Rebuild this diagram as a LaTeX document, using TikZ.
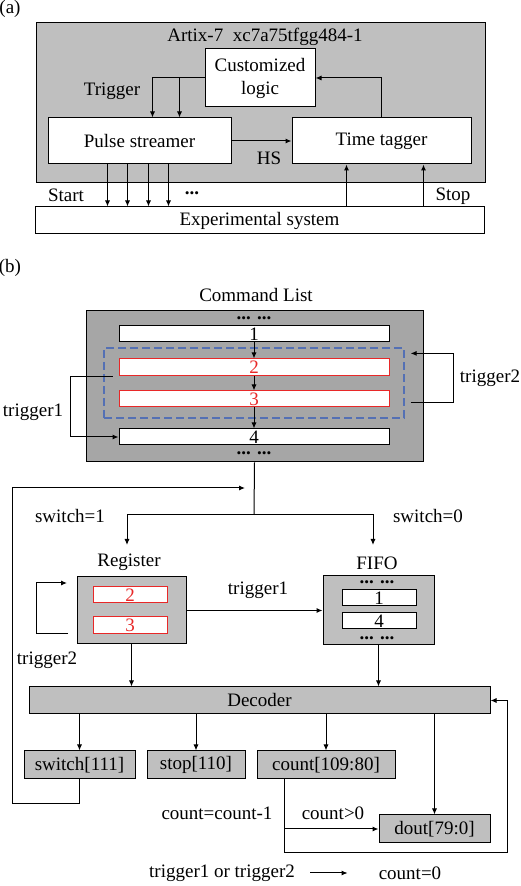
\documentclass[tikz,border=0pt]{standalone}
\usepackage{fontspec}
\setmainfont{Liberation Serif}
\usepackage{tikz}
\usetikzlibrary{calc}
\usetikzlibrary{arrows.meta}
\usetikzlibrary{positioning}
\usepackage{color}
\definecolor{lightgrey}{RGB}{191, 191, 191}
\definecolor{darkgrey}{RGB}{166, 166, 166}
\definecolor{cmdred}{RGB}{232, 40, 40}
\definecolor{dashblue}{RGB}{84, 112, 180}

\tikzset{
  every node/.style={font=\fontsize{19}{23}\selectfont, inner sep=0pt},
  box/.style={draw, fill=white, line width=1pt},
  greybox/.style={draw, fill=lightgrey, line width=1pt},
  redrow/.style={draw=cmdred, fill=white, text=cmdred, line width=1pt},
  arr/.style={line width=1pt, -{Latex[length=6pt,width=5pt]}},
  wire/.style={line width=1pt},
}

\begin{document}
\begin{tikzpicture}[x=1pt, y=1pt]
  \useasboundingbox (0,0) rectangle (520,886);
  % (a)
  \node (alab) at (10,877) {(a)};
  \node[greybox, minimum width=449, minimum height=160] (fpga) at (260.5,783) {};
  \node (fpganame) at (265,849) {Artix-7\ \ xc7a75tfgg484-1};
  \node[box, minimum width=110, minimum height=58, align=center] (cl) at (260,808) {Customized\\logic};
  \node[box, minimum width=183, minimum height=46] (ps) at (139.5,745) {Pulse streamer};
  \node[box, minimum width=179, minimum height=46] (tt) at (381.5,745) {Time tagger};
  \node[box, minimum width=449, minimum height=27] (es) at (259.5,665.5) {Experimental system};

  \coordinate (trg1) at ([xshift=105]ps.north west);
  \coordinate (trg2) at ([xshift=132]ps.north west);
  \draw[arr] (cl.west) -| (trg1);
  \draw[arr] (trg2 |- cl.west) -- (trg2);
  \draw[arr] (tt.north) |- (cl.east);
  \draw[arr] (ps.east) -- (tt.west);
  \foreach \dx in {60,80,101,121}
    \draw[arr] (ps.south west) ++(\dx,0) coordinate (st) -- (st |- es.north);
  \foreach \dx in {55,132}
    \draw[arr] (tt.south west) ++(\dx,0) coordinate (sp) (sp |- es.north) -- (sp);

  \node (trglab) at (112,795) {Trigger};
  \node (hslab) at (269,728) {HS};
  \node (startlab) at (66,691) {Start};
  \node[anchor=base] (moredots) at (192,691) {\textbf{...}};
  \node (stoplab) at (453,690) {Stop};

  % (b)
  \node (blab) at (10,618) {(b)};
  \node (cmdlab) at (256,591) {Command List};
  \node[draw, fill=darkgrey, line width=1pt, minimum width=337, minimum height=151] (cmd) at (254.5,499.5) {};
  \node[draw=dashblue, dash pattern=on 8pt off 4pt, line width=1.2pt, minimum width=300, minimum height=70] (dash) at (254,503) {};
  \node[box, minimum width=270, minimum height=16] (row1) at (254,552) {1};
  \node[redrow, minimum width=270, minimum height=17] (row2) at (254,518.5) {2};
  \node[redrow, minimum width=270, minimum height=16] (row3) at (254,487) {3};
  \node[box, minimum width=270, minimum height=16] (row4) at (254,449) {4};
  \node[anchor=base] (cmdtop) at (254,566) {\textbf{... ...}};
  \node[anchor=base] (cmdbot) at (254,431) {\textbf{... ...}};
  \draw[arr] (row1.south) -- (row2.north);
  \draw[arr] (row2.south) -- (row3.north);
  \draw[arr] (row3.south) -- (row4.north);

  \coordinate (t1a) at ([xshift=-6]row2.south west);
  \draw[arr] (t1a) -- ++(-42,0) |- (row4.west);
  \node (t1lab) at (33,474) {trigger1};
  \coordinate (t2a) at ([shift={(6,16)}]dash.south east);
  \coordinate (t2b) at ([shift={(6,-6)}]dash.north east);
  \draw[arr] (t2a) -- ++(43,0) |- (t2b);
  \node (t2lab) at (490,508) {trigger2};

  \coordinate (split) at (254,371);
  \coordinate (regin) at (127,341);
  \coordinate (fifoin) at (373,341);
  \draw[wire] (cmd.south) -- (split);
  \draw[arr] (split) -| (regin);
  \draw[arr] (split) -| (fifoin);
  \node (sw1lab) at (70,370) {switch=1};
  \node (sw0lab) at (428,370) {switch=0};

  \node (reglab) at (129,324) {Register};
  \node[greybox, minimum width=109, minimum height=67] (reg) at (131.5,275.5) {};
  \node[redrow, minimum width=74, minimum height=16] (reg2) at (130,291) {2};
  \node[redrow, minimum width=74, minimum height=17] (reg3) at (130,260.5) {3};
  \coordinate (rla) at (68,252);
  \coordinate (rlb) at (67,303);
  \draw[arr] (rla) -- ++(-32,0) |- (rlb);
  \node (rtlab) at (47,226) {trigger2};

  \node (fifolab) at (377,323) {FIFO};
  \node[greybox, minimum width=111, minimum height=69] (fifo) at (378.5,275.5) {};
  \node[box, minimum width=74, minimum height=16] (fifo1) at (379,288) {1};
  \node[box, minimum width=74, minimum height=16] (fifo4) at (379,265) {4};
  \node[anchor=base] (fifotop) at (377,302) {\textbf{... ...}};
  \node[anchor=base] (fifobot) at (377,246) {\textbf{... ...}};
  \draw[arr] (reg.east) -- (fifo.west);
  \node (rflab) at (258,296) {trigger1};

  \node[greybox, minimum width=461, minimum height=27] (dec) at (259.5,185.5) {Decoder};
  \draw[arr] (reg.south) -- (reg.south |- dec.north);
  \draw[arr] (fifo.south) -- (fifo.south |- dec.north);

  \node[greybox, minimum width=111, minimum height=28] (sw) at (79.5,121) {switch[111]};
  \node[greybox, minimum width=98, minimum height=28] (stp) at (196,121) {stop[110]};
  \node[greybox, minimum width=138, minimum height=28] (cnt) at (326,121) {count[109:80]};
  \node[greybox, minimum width=111, minimum height=28] (dout) at (434.5,57) {dout[79:0]};
  \foreach \n in {sw,stp,cnt,dout}
    \draw[arr] (\n.north |- dec.south) -- (\n.north);

  \coordinate (swlow) at (12,82);
  \coordinate (swin) at (245,398);
  \draw[arr] (sw.south) |- (swlow) |- (swin);

  \coordinate (cntout) at ([xshift=28]cnt.south west);
  \coordinate (cntlow) at (507,33);
  \draw[arr] (cntout) |- (dout.west);
  \draw[arr] (cntout) |- (cntlow) |- (dec.east);
  \node (declab) at (217,73) {count=count-1};
  \node (poslab) at (333,73) {count>0};

  \node (leg1) at (222,13) {trigger1 or trigger2};
  \node (leg2) at (410,13) {count=0};
  \draw[arr] ([xshift=15]leg1.east) -- ([xshift=-31]leg2.west);
\end{tikzpicture}
\end{document}
